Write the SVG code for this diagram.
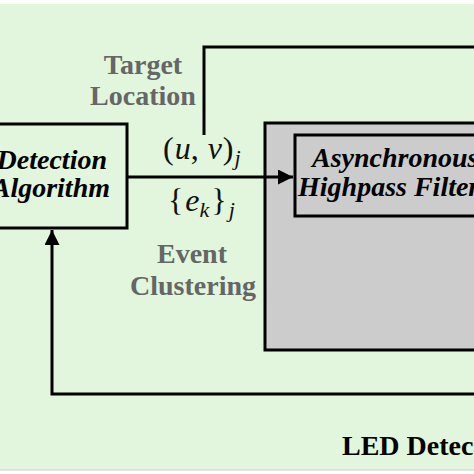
<svg xmlns="http://www.w3.org/2000/svg" width="474" height="474" viewBox="0 0 474 474">
<defs>
<style>
.lbl{font-family:"Liberation Serif","Times New Roman",serif;font-weight:bold;font-size:28px;fill:#666666;text-anchor:middle}
.node{font-family:"Liberation Serif","Times New Roman",serif;font-weight:bold;font-style:italic;font-size:28px;fill:#000}
.math{font-family:"Liberation Serif","Times New Roman",serif;font-size:32px;fill:#111}
.ln{fill:none;stroke:#000;stroke-width:3}
</style>
<marker id="ah" viewBox="0 0 10 10" refX="10" refY="5" markerWidth="6" markerHeight="5" markerUnits="strokeWidth" orient="auto">
<path d="M0,0 L10,5 L0,10 z" fill="#000"/>
</marker>
</defs>
<rect x="0" y="0" width="474" height="474" fill="#ffffff"/>
<rect x="0" y="4" width="474" height="466" fill="#e1f6dc"/>
<line x1="0" y1="470" x2="474" y2="470" stroke="#cfcfcf" stroke-width="1"/>

<g id="detection">
<rect x="-10" y="124" width="137" height="104" fill="none" stroke="#000" stroke-width="3"/>
<text class="node" x="107" y="169" text-anchor="end">Detection</text>
<text class="node" x="110" y="197" text-anchor="end">Algorithm</text>
</g>

<g id="led">
<rect x="265" y="123" width="220" height="227" fill="#cccccc" stroke="#000" stroke-width="3"/>
<g id="hpf">
<rect x="295" y="135" width="190" height="81" fill="#cccccc" stroke="#000" stroke-width="3"/>
<text class="node" x="312" y="167">Asynchronous</text>
<text class="node" x="298" y="196">Highpass Filter</text>
</g>
</g>

<g id="connectors">
<polyline class="ln" points="204,135 204,47 480,47"/>
<line class="ln" x1="127" y1="177" x2="293" y2="177" marker-end="url(#ah)"/>
<polyline class="ln" points="480,394 52,394 52,230" marker-end="url(#ah)"/>
</g>

<g id="labels">
<text class="lbl" x="143" y="74">Target</text>
<text class="lbl" x="143" y="105">Location</text>
<text class="lbl" x="192" y="263">Event</text>
<text class="lbl" x="193" y="295">Clustering</text>
<text class="math" x="163" y="159">(<tspan font-style="italic" dx="1">u</tspan>,<tspan font-style="italic" dx="9">v</tspan><tspan dx="1">)</tspan><tspan font-style="italic" font-size="22" dy="6" dx="1">j</tspan></text>
<text class="math" x="168" y="211">{<tspan font-style="italic" dx="2">e</tspan><tspan font-style="italic" font-size="22" dy="6">k</tspan><tspan dy="-6" dx="2">}</tspan><tspan font-style="italic" font-size="22" dy="6" dx="2">j</tspan></text>
<text x="342" y="455" font-family="'Liberation Serif','Times New Roman',serif" font-weight="bold" font-size="28" fill="#000">LED Detector</text>
</g>
</svg>
